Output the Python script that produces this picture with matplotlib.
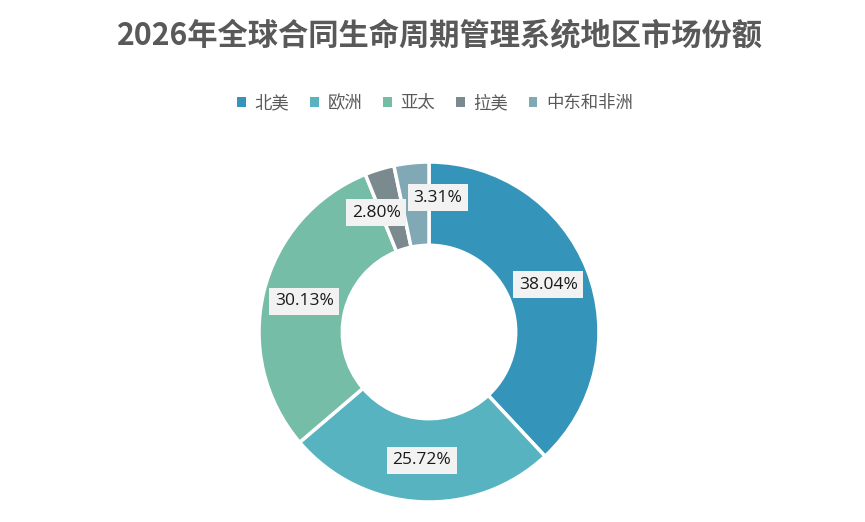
import matplotlib
matplotlib.use("Agg")
import numpy as np
import matplotlib.pyplot as plt
from matplotlib.patches import Patch

plt.rcParams['font.family'] = ['Noto Sans CJK SC', 'DejaVu Sans']

regions = ["北美", "欧洲", "亚太", "拉美", "中东和非洲"]
shares = [38.04, 25.72, 30.13, 2.80, 3.31]
colors = ["#3594BA", "#57B3C0", "#75BDA6", "#7A8A8E", "#81A9B5"]
title = "2026年全球合同生命周期管理系统地区市场份额"

fig = plt.figure(figsize=(8.65, 5.22), dpi=100)
ax = fig.add_axes([259 / 865, 20 / 522, 340 / 865, 340 / 522])

wedges, _ = ax.pie(shares, colors=colors, startangle=90, counterclock=False,
                   radius=1.0, wedgeprops=dict(width=0.49, edgecolor="white", linewidth=2.5))
ax.set_xlim(-1, 1)
ax.set_ylim(-1, 1)
ax.set_aspect("equal")
ax.axis("off")

# label nudges (in axes units) for the two small slices
nudge = {3: (-0.09, -0.02), 4: (0.13, 0.04)}
for i, w in enumerate(wedges):
    ang = np.deg2rad((w.theta1 + w.theta2) / 2)
    r = 0.755
    x, y = r * np.cos(ang), r * np.sin(ang)
    dx, dy = nudge.get(i, (0, 0))
    ax.text(x + dx, y + dy, f"{shares[i]:.2f}%", ha="center", va="center",
            fontsize=12.5, color="#1a1a1a", family=["Open Sans", "DejaVu Sans"],
            bbox=dict(boxstyle="square,pad=0.32", facecolor="#F2F2F2", edgecolor="none"))

fig.text(440 / 865, 1 - 36 / 522, title, ha="center", va="center",
         fontsize=21.8, fontweight="bold", color="#595959")

handles = [Patch(facecolor=c, edgecolor="none") for c in colors]
fig.legend(handles, regions, loc="center", bbox_to_anchor=(435 / 865, 1 - 103 / 522),
           ncol=5, frameon=False, fontsize=12.5, handlelength=0.5, handleheight=0.5,
           handletextpad=0.5, columnspacing=1.2, labelcolor="#595959")

fig.savefig("out.png", dpi=100)
